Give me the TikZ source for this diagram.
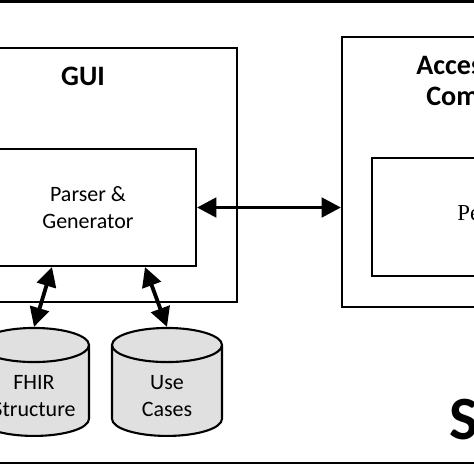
\documentclass[tikz,border=0pt]{standalone}
\usepackage{fontspec}
\setmainfont{Carlito}
\newfontfamily\serifface{Liberation Serif}
\usetikzlibrary{shapes.geometric}
\usetikzlibrary{calc}
\usetikzlibrary{arrows.meta}

\begin{document}
\begin{tikzpicture}[x=0.02cm,y=-0.02cm,
  box/.style={draw,line width=1.2pt,rectangle,inner sep=0pt},
  store/.style={draw,line width=1.2pt,fill=black!12,cylinder,shape border rotate=90,
    aspect=0.31,minimum width=2.2cm,minimum height=2.16cm,inner sep=0pt},
  storetext/.style={align=center,font=\fontsize{12.5}{15.5}\selectfont,inner sep=0pt},
  title/.style={anchor=west,inner sep=0pt,font=\bfseries\fontsize{16}{19}\selectfont},
  link/.style={line width=2.2pt,{Triangle[length=11pt,width=11pt]}-{Triangle[length=11pt,width=11pt]}}]
  \useasboundingbox (0,0) rectangle (474,474);
  \clip (0,0) rectangle (474,474);
  \draw [line width=1.5pt] (-10,1.5) rectangle (484,463);
  \node [box,minimum width=6.16cm,minimum height=5.08cm] (gui) at (83,175) {};
  \node [font=\bfseries\fontsize{16}{19}\selectfont] (guilabel) at (83,76) {GUI};
  \node [box,minimum width=4.32cm,minimum height=2.34cm,align=center,
    font=\fontsize{12.5}{15}\selectfont] (parser) at (88,207.5) {Parser \&\\Generator};
  \node [box,minimum width=5.56cm,minimum height=5.4cm] (access) at (481,172) {};
  \node [title] (accesslabel) at (416,65) {Access};
  \node [title] (complabel) at (426,98) {Component};
  \node [box,minimum width=4.36cm,minimum height=2.36cm] (persist) at (481,217) {};
  \node [anchor=west,inner sep=0pt,font=\serifface\fontsize{13}{15}\selectfont] (persistlabel) at (457,213) {Persistence};
  \node [store] (fhir) at (34,391) {\phantom{\rule{2.2cm}{1.08cm}}};
  \node [store] (cases) at (167,391) {\phantom{\rule{2.2cm}{1.08cm}}};
  \node [storetext] (fhirlabel) at (34,396) {FHIR\\Structure};
  \node [storetext] (caseslabel) at (167,396) {Use\\Cases};
  \node [anchor=west,inner sep=0pt,font=\bfseries\fontsize{35}{40}\selectfont] (serverlabel) at (449,420) {Server};
  \draw [link] (parser.east) -- (parser.east -| access.west);
  \draw [link] ($(parser.south)+(-36,0)$) -- (fhir.top);
  \draw [link] ($(parser.south)+(57,0)$) -- (cases.top);
\end{tikzpicture}
\end{document}
